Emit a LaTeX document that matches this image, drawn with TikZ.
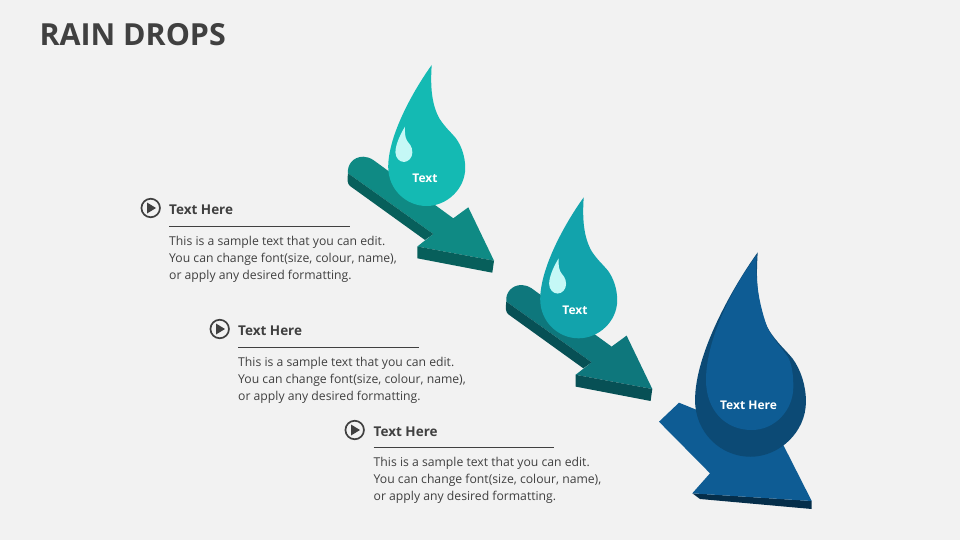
\documentclass[tikz,border=0pt]{standalone}
\usepackage{fontspec}
\setmainfont{Open Sans}
\definecolor{pagebg}{HTML}{F2F2F2}
\definecolor{inktext}{HTML}{404040}
\definecolor{dropa}{HTML}{14BAB3}
\definecolor{arrowa}{HTML}{0F8A84}
\definecolor{sidea}{HTML}{075F5B}
\definecolor{dropb}{HTML}{12A3AC}
\definecolor{arrowb}{HTML}{0E777C}
\definecolor{sideb}{HTML}{075055}
\definecolor{dropc}{HTML}{0C4A75}
\definecolor{arrowc}{HTML}{0E5C94}
\definecolor{sidec}{HTML}{052E4A}
\definecolor{shine}{HTML}{C5F8F6}
\newcommand{\dropshape}{(0,0) .. controls (-1.5,22) and (0,40) .. (8,54)
  .. controls (14,63) and (19,67) .. (24,73)
  .. controls (30,81) and (33.5,92) .. (33.5,103)
  .. controls (33.5,124) and (15,141) .. (-5,141)
  .. controls (-26,141) and (-43.5,124) .. (-43.5,102)
  .. controls (-43.5,70) and (-18,25) .. (0,0) -- cycle}
\newcommand{\arrowtop}{(-2,173.3) .. controls (-3,165) and (3,156.7) .. (13.3,156.7)
  .. controls (17,156.7) and (20,158) .. (23.3,160)
  -- (103.3,218.3) -- (118.3,207.3) -- (144,260.7) -- (67.3,246.5) -- (83.3,234) -- cycle}
\newcommand{\arrowside}{(-2,173.3) -- (83.3,234) -- (75,240) -- (0,186) .. controls (-2.5,184) and (-3,180) .. (-2,173.3) -- cycle}
\newcommand{\arrowfoot}{(67.3,246.5) -- (144,260.7) -- (142.3,272.7) -- (67.3,258.3) -- cycle}
\tikzset{
	headtext/.style={anchor=west,inner sep=0pt,text=inktext,font=\fontsize{13.5}{16}\selectfont\bfseries},
	bodytext/.style={anchor=north west,inner sep=0pt,align=left,text=inktext,font=\fontsize{12.2}{17}\selectfont},
	droptext/.style={inner sep=0pt,text=white,font=\fontsize{12}{14}\selectfont\bfseries},
	ruleline/.style={draw=inktext,line width=0.9pt},
	ringicon/.style={circle,draw=inktext,line width=1.7pt,minimum size=18.5pt,inner sep=0pt},
	playicon/.style={fill=inktext}
}
\begin{document}
\begin{tikzpicture}[x=1pt,y=-1pt]
	\fill[pagebg] (0,0) rectangle (960,540);
	\useasboundingbox (0,0) rectangle (960,540);

	\node[anchor=west,inner sep=0pt,text=inktext,font=\fontsize{30.4}{36}\selectfont\bfseries] (title) at (39.3,34.7) {RAIN DROPS};

	% first arrow and drop
	\begin{scope}[shift={(350,0)}]
		\fill[arrowa] \arrowtop;
		\fill[sidea] \arrowside;
		\fill[sidea] \arrowfoot;
	\end{scope}
	\fill[dropa,shift={(431.7,65)}] \dropshape;
	\fill[shine,shift={(405,126.7)},xscale=0.22,yscale=0.25] \dropshape;
	\node[droptext] (dropatext) at (425,178.4) {Text};

	% second arrow and drop
	\begin{scope}[shift={(508.3,128.3)}]
		\fill[arrowb] \arrowtop;
		\fill[sideb] \arrowside;
		\fill[sideb] \arrowfoot;
	\end{scope}
	\fill[dropb,shift={(583.7,197.3)}] \dropshape;
	\fill[shine,shift={(558.7,258.3)},xscale=0.22,yscale=0.25] \dropshape;
	\node[droptext] (dropbtext) at (575,310.4) {Text};

	% big arrow and drop
	\fill[sidec] (692.3,493.3) -- (700,499) -- (811.7,509) -- (811.7,501) -- cycle;
	\fill[arrowc] (659,421.7) -- (679,402.7) -- (783.3,445) -- (811.7,501) -- (692.3,493.3) -- (710,473.3) -- cycle;
	\fill[dropc,shift={(757.7,252.3)},xscale=1.44,yscale=1.45] \dropshape;
	\fill[arrowc] (756.7,255) .. controls (755.5,275) and (757,298) .. (767,326.7)
		.. controls (772,338) and (781,347) .. (788,357)
		.. controls (792,365) and (793.3,374) .. (793.3,387)
		.. controls (793.3,410) and (775,430) .. (751.7,430)
		.. controls (725,430) and (706,410) .. (706,380)
		.. controls (706,340) and (732,288) .. (756.7,255) -- cycle;
	\node[droptext] (dropctext) at (748.5,405.4) {Text Here};

	% first text block
	\node[ringicon] (ringa) at (150.7,208) {};
	\fill[playicon] (147,202.5) -- (156,208) -- (147,213.5) -- cycle;
	\node[headtext] (heada) at (169,210) {Text Here};
	\coordinate (rulea) at (169,226);
	\coordinate (ruleb) at (350,226);
	\draw[ruleline] (rulea) -- (ruleb);
	\node[bodytext] (bodya) at (169,236) {This is a sample text that you can edit.\\You can change font(size, colour, name),\\or apply any desired formatting.};

	% second text block
	\node[ringicon] (ringb) at (219.7,329) {};
	\fill[playicon] (216,323.5) -- (225,329) -- (216,334.5) -- cycle;
	\node[headtext] (headb) at (238,331) {Text Here};
	\coordinate (rulec) at (238,347);
	\coordinate (ruled) at (419,347);
	\draw[ruleline] (rulec) -- (ruled);
	\node[bodytext] (bodyb) at (238,357) {This is a sample text that you can edit.\\You can change font(size, colour, name),\\or apply any desired formatting.};

	% third text block
	\node[ringicon] (ringc) at (354.7,430) {};
	\fill[playicon] (351,424.5) -- (360,430) -- (351,435.5) -- cycle;
	\node[headtext] (headc) at (373.5,432) {Text Here};
	\coordinate (rulee) at (373.5,447);
	\coordinate (rulef) at (554,447);
	\draw[ruleline] (rulee) -- (rulef);
	\node[bodytext] (bodyc) at (373.5,457) {This is a sample text that you can edit.\\You can change font(size, colour, name),\\or apply any desired formatting.};
\end{tikzpicture}
\end{document}
